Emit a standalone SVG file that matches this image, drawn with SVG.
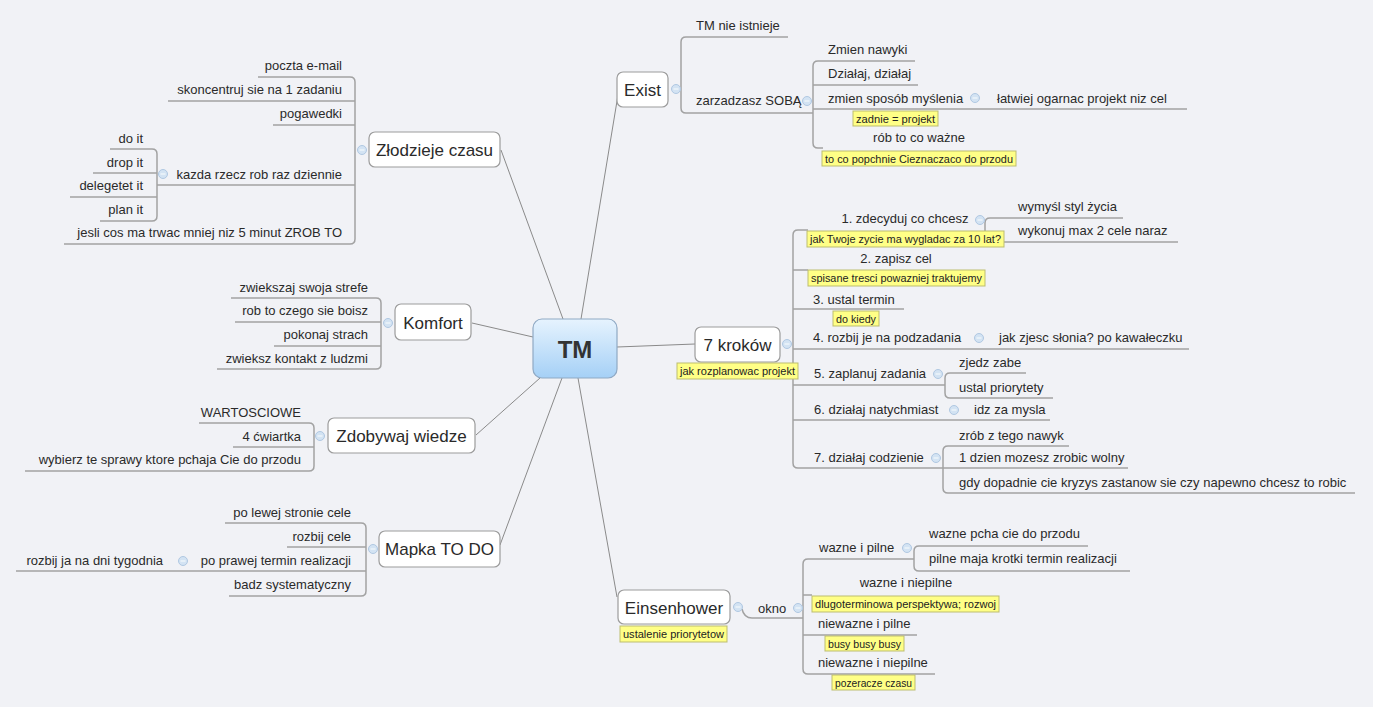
<svg xmlns="http://www.w3.org/2000/svg" width="1373" height="707" viewBox="0 0 1373 707">
<defs>
<linearGradient id="tmg" x1="0" y1="0" x2="0" y2="1">
<stop offset="0" stop-color="#e6f3fe"/>
<stop offset="1" stop-color="#a5d0f6"/>
</linearGradient>
<style>
.ln{fill:none;stroke:#a2a2a2;stroke-width:1.5}
.cn{fill:none;stroke:#8a8a8a;stroke-width:1}
.t{font-family:"Liberation Sans",Arial,sans-serif;font-size:13px;fill:#2a2a2a}
.e{text-anchor:end}
.m{text-anchor:middle}
.mt{font-family:"Liberation Sans",Arial,sans-serif;font-size:17px;fill:#2a2a2a;text-anchor:middle}
.box{fill:#ffffff;stroke:#9c9c9c;stroke-width:1.2}
.lab{fill:#ffff86;stroke:#bdbd70;stroke-width:1}
.lt{font-family:"Liberation Sans",Arial,sans-serif;font-size:11px;fill:#222;text-anchor:middle}
.dot{fill:#d3e3f3;stroke:#b0c8e2;stroke-width:1}
.dm{stroke:#f4f8fc;stroke-width:1.2}
</style>
</defs>
<rect width="1373" height="707" fill="#f1f2f6"/>

<g id="connectors">
<path class="cn" d="M581,319 L618,95"/>
<path class="cn" d="M563,319 L501,150"/>
<path class="cn" d="M533,337 L472,323"/>
<path class="cn" d="M540,378 L476,435"/>
<path class="cn" d="M562,378 L500,545"/>
<path class="cn" d="M578,378 L617,597"/>
<path class="cn" d="M617,347 L695,344"/>
<!-- Zlodzieje -->
<path class="ln" d="M258,77 H350 Q355,77 355,82 V239 Q355,244 350,244 H64"/>
<path class="ln" d="M168,101 H355 M273,125 H355 M157,185 H355"/>
<path class="ln" d="M110,149 H152 Q157,149 157,154 V216 Q157,221 152,221 H100"/>
<path class="ln" d="M93,173 H157 M70,197 H157"/>
<!-- Komfort -->
<path class="ln" d="M231,298 H376 Q381,298 381,303 V364 Q381,369 376,369 H217"/>
<path class="ln" d="M235,322 H381 M274,346 H381"/>
<!-- Zdobywaj -->
<path class="ln" d="M199,423 H309 Q314,423 314,428 V466 Q314,471 309,471 H25"/>
<path class="ln" d="M233,447 H314"/>
<!-- Mapka -->
<path class="ln" d="M225,523 H361 Q366,523 366,528 V591 Q366,596 361,596 H229"/>
<path class="ln" d="M287,547 H366 M16,571 H366"/>
<!-- Exist -->
<path class="ln" d="M788,37 H686 Q681,37 681,42 V108 Q681,113 686,113 H813"/>
<path class="ln" d="M915,61 H818 Q813,61 813,66 V143 Q813,148 818,148 H823"/>
<path class="ln" d="M813,85 H918 M813,109 H1187"/>
<!-- 7 krokow -->
<path class="ln" d="M808,230 H798 Q793,230 793,235 V463 Q793,468 798,468 H943"/>
<path class="ln" d="M1123,218 H990 Q985,218 985,223 V237 Q985,242 990,242 H1178"/>
<path class="ln" d="M793,270 H808 M793,309 H904 M793,349 H1189 M793,385 H945 M793,420 H1050"/>
<path class="ln" d="M1026,373 H950 Q945,373 945,378 V393 Q945,398 950,398 H1053"/>
<path class="ln" d="M1069,446 H948 Q943,446 943,451 V488 Q943,493 948,493 H1355"/>
<path class="ln" d="M943,468 H1128"/>
<!-- Einsenhower -->
<path class="ln" d="M742,609 Q744,618 752,618 H803"/>
<path class="ln" d="M914,559 H808 Q803,559 803,564 V669 Q803,674 808,674 H935"/>
<path class="ln" d="M1088,546 H919 Q914,546 914,551 V566 Q914,571 919,571 H1130"/>
<path class="ln" d="M803,595 H812 M803,635 H917"/>
</g>

<g id="node-tm">
<rect x="533" y="319" width="84" height="59" rx="9" fill="url(#tmg)" stroke="#8fa9c4" stroke-width="1.2"/>
<text x="575" y="358" font-family="Liberation Sans, Arial, sans-serif" font-size="24" font-weight="bold" fill="#333" text-anchor="middle">TM</text>
</g>

<g id="node-zlodzieje">
<rect class="box" x="369" y="132" width="131" height="35" rx="6"/>
<text class="mt" x="434.5" y="156">Złodzieje czasu</text>
<circle class="dot" cx="362" cy="150" r="4.5"/><path class="dm" d="M359.5,150 H364.5"/>
<text class="t e" x="342" y="70">poczta e-mail</text>
<text class="t e" x="342" y="94">skoncentruj sie na 1 zadaniu</text>
<text class="t e" x="342" y="118">pogawedki</text>
<text class="t e" x="342" y="179">kazda rzecz rob raz dziennie</text>
<circle class="dot" cx="163" cy="174" r="4.5"/><path class="dm" d="M160.5,174 H165.5"/>
<text class="t e" x="143" y="143">do it</text>
<text class="t e" x="143" y="167">drop it</text>
<text class="t e" x="143" y="190">delegetet it</text>
<text class="t e" x="143" y="214">plan it</text>
<text class="t e" x="342" y="237">jesli cos ma trwac mniej niz 5 minut ZROB TO</text>
</g>

<g id="node-komfort">
<rect class="box" x="395" y="304" width="76" height="36" rx="6"/>
<text class="mt" x="433" y="329">Komfort</text>
<circle class="dot" cx="388" cy="323" r="4.5"/><path class="dm" d="M385.5,323 H390.5"/>
<text class="t e" x="368" y="292">zwiekszaj swoja strefe</text>
<text class="t e" x="368" y="315">rob to czego sie boisz</text>
<text class="t e" x="368" y="339">pokonaj strach</text>
<text class="t e" x="368" y="363">zwieksz kontakt z ludzmi</text>
</g>

<g id="node-zdobywaj">
<rect class="box" x="328" y="418" width="147" height="35" rx="6"/>
<text class="mt" x="401.5" y="442">Zdobywaj wiedze</text>
<circle class="dot" cx="320" cy="436" r="4.5"/><path class="dm" d="M317.5,436 H322.5"/>
<text class="t e" x="301" y="417">WARTOSCIOWE</text>
<text class="t e" x="301" y="441">4 ćwiartka</text>
<text class="t e" x="301" y="464">wybierz te sprawy ktore pchaja Cie do przodu</text>
</g>

<g id="node-mapka">
<rect class="box" x="379" y="531" width="121" height="36" rx="6"/>
<text class="mt" x="439.5" y="555">Mapka TO DO</text>
<circle class="dot" cx="373" cy="549" r="4.5"/><path class="dm" d="M370.5,549 H375.5"/>
<text class="t e" x="351" y="517">po lewej stronie cele</text>
<text class="t e" x="351" y="541">rozbij cele</text>
<text class="t e" x="351" y="565">po prawej termin realizacji</text>
<circle class="dot" cx="183" cy="561" r="4.5"/><path class="dm" d="M180.5,561 H185.5"/>
<text class="t e" x="163" y="565">rozbij ja na dni tygodnia</text>
<text class="t e" x="351" y="589">badz systematyczny</text>
</g>

<g id="node-exist">
<rect class="box" x="617" y="72" width="51" height="35" rx="6"/>
<text class="mt" x="642.5" y="96">Exist</text>
<circle class="dot" cx="676" cy="89" r="4.5"/><path class="dm" d="M673.5,89 H678.5"/>
<text class="t" x="696" y="30">TM nie istnieje</text>
<text class="t" x="696" y="105">zarzadzasz SOBĄ</text>
<circle class="dot" cx="807" cy="101" r="4.5"/><path class="dm" d="M804.5,101 H809.5"/>
<text class="t" x="828" y="54">Zmien nawyki</text>
<text class="t" x="828" y="78">Działaj, działaj</text>
<text class="t" x="828" y="103">zmien sposób myślenia</text>
<circle class="dot" cx="975" cy="98" r="4.5"/><path class="dm" d="M972.5,98 H977.5"/>
<text class="t" x="997" y="103">łatwiej ogarnac projekt niz cel</text>
<rect class="lab" x="853" y="111" width="85" height="15"/>
<text class="lt" x="895.5" y="122.5" textLength="79" lengthAdjust="spacingAndGlyphs">zadnie = projekt</text>
<text class="t m" x="919" y="142">rób to co ważne</text>
<rect class="lab" x="822" y="151" width="194" height="15"/>
<text class="lt" x="919" y="162.5" textLength="188" lengthAdjust="spacingAndGlyphs">to co popchnie Cieznaczaco do przodu</text>
</g>

<g id="node-7krokow">
<rect class="box" x="695" y="327" width="85" height="35" rx="6"/>
<text class="mt" x="737.5" y="351">7 kroków</text>
<rect class="lab" x="677" y="363" width="121" height="16"/>
<text class="lt" x="737.5" y="375" textLength="115" lengthAdjust="spacingAndGlyphs">jak rozplanowac projekt</text>
<circle class="dot" cx="787" cy="344" r="4.5"/><path class="dm" d="M784.5,344 H789.5"/>
<text class="t m" x="905" y="223">1. zdecyduj co chcesz</text>
<circle class="dot" cx="980" cy="220" r="4.5"/><path class="dm" d="M977.5,220 H982.5"/>
<rect class="lab" x="807" y="231" width="197" height="16"/>
<text class="lt" x="905.5" y="243" textLength="191" lengthAdjust="spacingAndGlyphs">jak Twoje zycie ma wygladac za 10 lat?</text>
<text class="t" x="1018" y="211">wymyśl styl życia</text>
<text class="t" x="1018" y="235">wykonuj max 2 cele naraz</text>
<text class="t m" x="896" y="263">2. zapisz cel</text>
<rect class="lab" x="808" y="270" width="177" height="16"/>
<text class="lt" x="896.5" y="282" textLength="171" lengthAdjust="spacingAndGlyphs">spisane tresci powazniej traktujemy</text>
<text class="t" x="813" y="304">3. ustal termin</text>
<rect class="lab" x="833" y="311" width="46" height="15"/>
<text class="lt" x="856" y="322.5" textLength="40" lengthAdjust="spacingAndGlyphs">do kiedy</text>
<text class="t" x="813" y="342">4. rozbij je na podzadania</text>
<circle class="dot" cx="979" cy="338" r="4.5"/><path class="dm" d="M976.5,338 H981.5"/>
<text class="t" x="999" y="342">jak zjesc słonia? po kawałeczku</text>
<text class="t" x="814" y="378">5. zaplanuj zadania</text>
<circle class="dot" cx="938" cy="374" r="4.5"/><path class="dm" d="M935.5,374 H940.5"/>
<text class="t" x="959" y="367">zjedz zabe</text>
<text class="t" x="959" y="392">ustal priorytety</text>
<text class="t" x="814" y="414">6. działaj natychmiast</text>
<circle class="dot" cx="954" cy="410" r="4.5"/><path class="dm" d="M951.5,410 H956.5"/>
<text class="t" x="974" y="414">idz za mysla</text>
<text class="t" x="814" y="462">7. działaj codzienie</text>
<circle class="dot" cx="936" cy="458" r="4.5"/><path class="dm" d="M933.5,458 H938.5"/>
<text class="t" x="959" y="440">zrób z tego nawyk</text>
<text class="t" x="959" y="462">1 dzien mozesz zrobic wolny</text>
<text class="t" x="959" y="487">gdy dopadnie cie kryzys zastanow sie czy napewno chcesz to robic</text>
</g>

<g id="node-einsenhower">
<rect class="box" x="618" y="590" width="112" height="34" rx="6"/>
<text class="mt" x="674" y="614">Einsenhower</text>
<rect class="lab" x="620" y="626" width="107" height="16"/>
<text class="lt" x="673.5" y="638" textLength="101" lengthAdjust="spacingAndGlyphs">ustalenie priorytetow</text>
<circle class="dot" cx="738" cy="607" r="4.5"/><path class="dm" d="M735.5,607 H740.5"/>
<text class="t" x="758" y="613">okno</text>
<circle class="dot" cx="798" cy="608" r="4.5"/><path class="dm" d="M795.5,608 H800.5"/>
<text class="t" x="819" y="552">wazne i pilne</text>
<circle class="dot" cx="907" cy="548" r="4.5"/><path class="dm" d="M904.5,548 H909.5"/>
<text class="t" x="929" y="538">wazne pcha cie do przodu</text>
<text class="t" x="929" y="563">pilne maja krotki termin realizacji</text>
<text class="t m" x="906" y="587">wazne i niepilne</text>
<rect class="lab" x="812" y="596" width="187" height="16"/>
<text class="lt" x="905.5" y="608" textLength="181" lengthAdjust="spacingAndGlyphs">dlugoterminowa perspektywa; rozwoj</text>
<text class="t" x="818" y="628">niewazne i pilne</text>
<rect class="lab" x="825" y="636" width="79" height="15"/>
<text class="lt" x="864.5" y="647.5" textLength="73" lengthAdjust="spacingAndGlyphs">busy busy busy</text>
<text class="t" x="818" y="667">niewazne i niepilne</text>
<rect class="lab" x="832" y="675" width="83" height="15"/>
<text class="lt" x="873.5" y="686.5" textLength="77" lengthAdjust="spacingAndGlyphs">pozeracze czasu</text>
</g>
</svg>
